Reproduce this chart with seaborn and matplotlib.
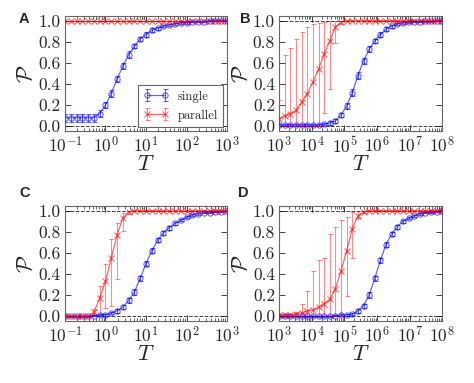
import numpy as np
import pandas as pd
import matplotlib
matplotlib.use("Agg")
import matplotlib.pyplot as plt
from matplotlib.ticker import LogLocator, NullFormatter
import seaborn as sns

# ---------------- data ----------------
# Panels A and C: T from 1e-1 to 1e3 (29 samples)
AC_T = np.logspace(-1, 3, 29)
# Panels B and D: T from 1e3 to 1e8 (30 samples)
BD_T = np.logspace(3, 8, 30)

A_single = [0.08, 0.08, 0.08, 0.08, 0.08, 0.08, 0.12, 0.20, 0.31, 0.45, 0.57, 0.68, 0.76, 0.83,
            0.87, 0.91, 0.93, 0.95, 0.96, 0.97, 0.98, 0.98, 0.99, 0.99, 0.99, 1.0, 1.0, 1.0, 1.0]
A_single_err = [0.04, 0.04, 0.04, 0.04, 0.04, 0.04, 0.03, 0.03, 0.03, 0.03, 0.03, 0.03, 0.02, 0.02,
                0.02, 0.02, 0.015, 0.01, 0.01, 0.01, 0.01, 0.01, 0.005, 0.005, 0.005, 0.005, 0.005, 0.005, 0.005]
A_parallel = [1.0, 1.0, 1.0, 1.0, 1.0, 1.0, 1.0, 1.0, 1.0, 1.0, 1.0, 1.0, 1.0, 1.0,
              1.0, 1.0, 1.0, 1.0, 1.0, 1.0, 1.0, 1.0, 1.0, 1.0, 1.0, 1.0, 1.0, 1.0, 1.0]
A_parallel_lo = [0.995, 0.995, 0.995, 0.995, 0.995, 0.995, 0.995, 0.995, 0.995, 0.995, 0.995, 0.995, 0.995, 0.995,
                 0.995, 0.995, 0.995, 0.995, 0.995, 0.995, 0.995, 0.995, 0.995, 0.995, 0.995, 0.995, 0.995, 0.995, 0.995]
A_parallel_hi = A_parallel

B_single = [0.01, 0.01, 0.01, 0.01, 0.01, 0.01, 0.01, 0.01, 0.02, 0.03, 0.05, 0.11, 0.19, 0.32, 0.48,
            0.62, 0.73, 0.81, 0.87, 0.92, 0.95, 0.97, 0.98, 0.985, 0.99, 0.99, 0.995, 0.995, 1.0, 1.0]
B_single_err = [0.01, 0.01, 0.01, 0.01, 0.01, 0.01, 0.01, 0.01, 0.01, 0.015, 0.02, 0.02, 0.03, 0.03, 0.03,
                0.03, 0.03, 0.02, 0.02, 0.02, 0.015, 0.01, 0.01, 0.01, 0.005, 0.005, 0.005, 0.005, 0.005, 0.005]
B_parallel = [0.07, 0.10, 0.12, 0.15, 0.23, 0.31, 0.42, 0.54, 0.69, 0.81, 0.94, 0.99, 1.0, 1.0, 1.0,
              1.0, 1.0, 1.0, 1.0, 1.0, 1.0, 1.0, 1.0, 1.0, 1.0, 1.0, 1.0, 1.0, 1.0, 1.0]
B_parallel_lo = [0.0, 0.0, 0.0, 0.0, 0.0, 0.0, 0.0, 0.0, 0.13, 0.35, 0.79, 0.97, 1.0, 1.0, 1.0,
                 1.0, 1.0, 1.0, 1.0, 1.0, 1.0, 1.0, 1.0, 1.0, 1.0, 1.0, 1.0, 1.0, 1.0, 1.0]
B_parallel_hi = [0.25, 0.68, 0.74, 0.83, 0.89, 0.94, 0.97, 0.98, 0.99, 1.0, 1.0, 1.0, 1.0, 1.0, 1.0,
                 1.0, 1.0, 1.0, 1.0, 1.0, 1.0, 1.0, 1.0, 1.0, 1.0, 1.0, 1.0, 1.0, 1.0, 1.0]

C_single = [0.0, 0.0, 0.0, 0.0, 0.0, 0.005, 0.01, 0.015, 0.03, 0.05, 0.085, 0.15, 0.23, 0.36,
            0.50, 0.62, 0.72, 0.79, 0.84, 0.88, 0.91, 0.94, 0.96, 0.97, 0.98, 0.98, 0.99, 0.99, 1.0]
C_single_err = [0.005, 0.005, 0.005, 0.005, 0.005, 0.005, 0.01, 0.01, 0.01, 0.015, 0.02, 0.02, 0.025, 0.025,
                0.025, 0.025, 0.02, 0.02, 0.02, 0.015, 0.01, 0.01, 0.01, 0.01, 0.005, 0.005, 0.005, 0.005, 0.005]
C_parallel = [0.0, 0.0, 0.0, 0.0, 0.0, 0.04, 0.17, 0.33, 0.55, 0.77, 0.93, 0.99, 1.0, 1.0,
              1.0, 1.0, 1.0, 1.0, 1.0, 1.0, 1.0, 1.0, 1.0, 1.0, 1.0, 1.0, 1.0, 1.0, 1.0]
C_parallel_lo = [0.0, 0.0, 0.0, 0.0, 0.0, 0.01, 0.01, 0.08, 0.10, 0.35, 0.81, 0.97, 1.0, 1.0,
                 1.0, 1.0, 1.0, 1.0, 1.0, 1.0, 1.0, 1.0, 1.0, 1.0, 1.0, 1.0, 1.0, 1.0, 1.0]
C_parallel_hi = [0.0, 0.0, 0.0, 0.0, 0.0, 0.07, 0.29, 0.50, 0.73, 0.88, 0.98, 1.0, 1.0, 1.0,
                 1.0, 1.0, 1.0, 1.0, 1.0, 1.0, 1.0, 1.0, 1.0, 1.0, 1.0, 1.0, 1.0, 1.0, 1.0]

D_single = [0.0, 0.0, 0.0, 0.0, 0.0, 0.0, 0.0, 0.0, 0.0, 0.0, 0.005, 0.01, 0.01, 0.02, 0.05,
            0.10, 0.20, 0.36, 0.53, 0.68, 0.78, 0.85, 0.90, 0.93, 0.95, 0.97, 0.98, 0.985, 0.99, 1.0]
D_single_err = [0.005, 0.005, 0.005, 0.005, 0.005, 0.005, 0.005, 0.005, 0.005, 0.005, 0.005, 0.01, 0.01, 0.01, 0.015,
                0.02, 0.025, 0.025, 0.025, 0.025, 0.02, 0.02, 0.015, 0.01, 0.01, 0.01, 0.005, 0.005, 0.005, 0.005]
D_parallel = [0.01, 0.01, 0.01, 0.02, 0.03, 0.05, 0.06, 0.085, 0.12, 0.16, 0.26, 0.43, 0.62, 0.83, 0.95,
              0.99, 1.0, 1.0, 1.0, 1.0, 1.0, 1.0, 1.0, 1.0, 1.0, 1.0, 1.0, 1.0, 1.0, 1.0]
D_parallel_lo = [0.0, 0.0, 0.0, 0.0, 0.0, 0.0, 0.0, 0.0, 0.0, 0.0, 0.0, 0.0, 0.19, 0.55, 0.93,
                 0.98, 1.0, 1.0, 1.0, 1.0, 1.0, 1.0, 1.0, 1.0, 1.0, 1.0, 1.0, 1.0, 1.0, 1.0]
D_parallel_hi = [0.01, 0.02, 0.02, 0.04, 0.12, 0.24, 0.43, 0.53, 0.55, 0.78, 0.85, 0.91, 0.94, 0.99, 1.0,
                 1.0, 1.0, 1.0, 1.0, 1.0, 1.0, 1.0, 1.0, 1.0, 1.0, 1.0, 1.0, 1.0, 1.0, 1.0]

Y_TICKS = [0.0, 0.2, 0.4, 0.6, 0.8, 1.0]
LEGEND_LABELS = ["single", "parallel"]
PANEL_LABELS = ["A", "B", "C", "D"]

# ---------------- style ----------------
sns.set_style("ticks")
plt.rcParams.update({
    "font.family": "serif",
    "font.serif": ["cmr10"],
    "mathtext.fontset": "cm",
    "axes.formatter.use_mathtext": True,
    "axes.unicode_minus": False,
})

BLUE = (0.0, 0.0, 1.0)
RED = (1.0, 0.0, 0.0)

fig = plt.figure(figsize=(4.74, 3.83), dpi=100)
positions = [
    [0.137, 0.658, 0.342, 0.300],
    [0.589, 0.658, 0.344, 0.300],
    [0.137, 0.162, 0.342, 0.300],
    [0.589, 0.162, 0.344, 0.300],
]
panels = [
    (AC_T, A_single, A_single_err, A_parallel, A_parallel_lo, A_parallel_hi, (1e-1, 1e3)),
    (BD_T, B_single, B_single_err, B_parallel, B_parallel_lo, B_parallel_hi, (1e3, 1e8)),
    (AC_T, C_single, C_single_err, C_parallel, C_parallel_lo, C_parallel_hi, (1e-1, 1e3)),
    (BD_T, D_single, D_single_err, D_parallel, D_parallel_lo, D_parallel_hi, (1e3, 1e8)),
]

letter_pos = [(0.040, 0.951), (0.506, 0.951), (0.040, 0.497), (0.502, 0.497)]

for k, (pos, (T, s, se, p, plo, phi, xl)) in enumerate(zip(positions, panels)):
    ax = fig.add_axes(pos)
    ax.set_xscale("log")
    ax.axhline(0.0, ls="--", color="k", lw=0.7, alpha=0.75, zorder=1)
    ax.axhline(1.0, ls="--", color="k", lw=0.7, alpha=0.75, zorder=1)

    s = np.asarray(s); se = np.asarray(se)
    p = np.asarray(p); plo = np.asarray(plo); phi = np.asarray(phi)

    eb_s = ax.errorbar(T, s, yerr=se, fmt="none", ecolor=BLUE, elinewidth=0.8,
                       capsize=1.8, capthick=0.8, alpha=0.6, zorder=2)
    sns.lineplot(x=T, y=s, ax=ax, color=BLUE, lw=0.9, alpha=0.6, marker="o",
                 markersize=3.8, markerfacecolor="none", markeredgecolor=BLUE,
                 markeredgewidth=0.8, estimator=None, sort=False, legend=False, zorder=3)
    ln_s = ax.lines[-1]

    perr = np.vstack([np.clip(p - plo, 0, None), np.clip(phi - p, 0, None)])
    eb_p = ax.errorbar(T, p, yerr=perr, fmt="none", ecolor=RED, elinewidth=0.8,
                       capsize=1.8, capthick=0.8, alpha=0.45, zorder=2)
    sns.lineplot(x=T, y=p, ax=ax, color=RED, lw=0.9, alpha=0.6, marker="x",
                 markersize=3.8, markeredgecolor=RED, markeredgewidth=0.8,
                 estimator=None, sort=False, legend=False, zorder=4)
    ln_p = ax.lines[-1]

    ax.set_xlim(*xl)
    ax.set_ylim(-0.045, 1.045)
    ax.xaxis.set_major_locator(LogLocator(base=10, numticks=12))
    ax.xaxis.set_minor_locator(LogLocator(base=10, subs=np.arange(2, 10), numticks=12))
    ax.xaxis.set_minor_formatter(NullFormatter())
    ax.set_yticks(Y_TICKS)
    ax.set_yticklabels([f"{v:.1f}" for v in Y_TICKS])
    ax.tick_params(which="both", direction="in", top=True, right=True, labelsize=12.5)
    ax.tick_params(which="major", length=4, width=0.6, pad=3)
    ax.tick_params(which="minor", length=2, width=0.5)
    for sp in ax.spines.values():
        sp.set_color("0.4")
        sp.set_linewidth(0.8)
    ax.set_xlabel(r"$T$", fontsize=16, labelpad=-1)
    ax.set_ylabel(r"$\mathcal{P}$", fontsize=16, labelpad=1)

    if k == 0:
        leg = ax.legend([(eb_s, ln_s), (eb_p, ln_p)], LEGEND_LABELS, loc="lower right",
                        numpoints=2, fontsize=9, fancybox=False, framealpha=1,
                        edgecolor="0.4", handlelength=2.0, borderaxespad=0.3,
                        borderpad=0.45, labelspacing=0.55, handletextpad=0.7)
        leg.get_frame().set_linewidth(0.8)

    fig.text(letter_pos[k][0], letter_pos[k][1], PANEL_LABELS[k], fontsize=10.5,
             fontweight="bold", family=["Liberation Sans", "DejaVu Sans"], ha="left", va="center")

fig.savefig("out.png", dpi=100, facecolor="white")
